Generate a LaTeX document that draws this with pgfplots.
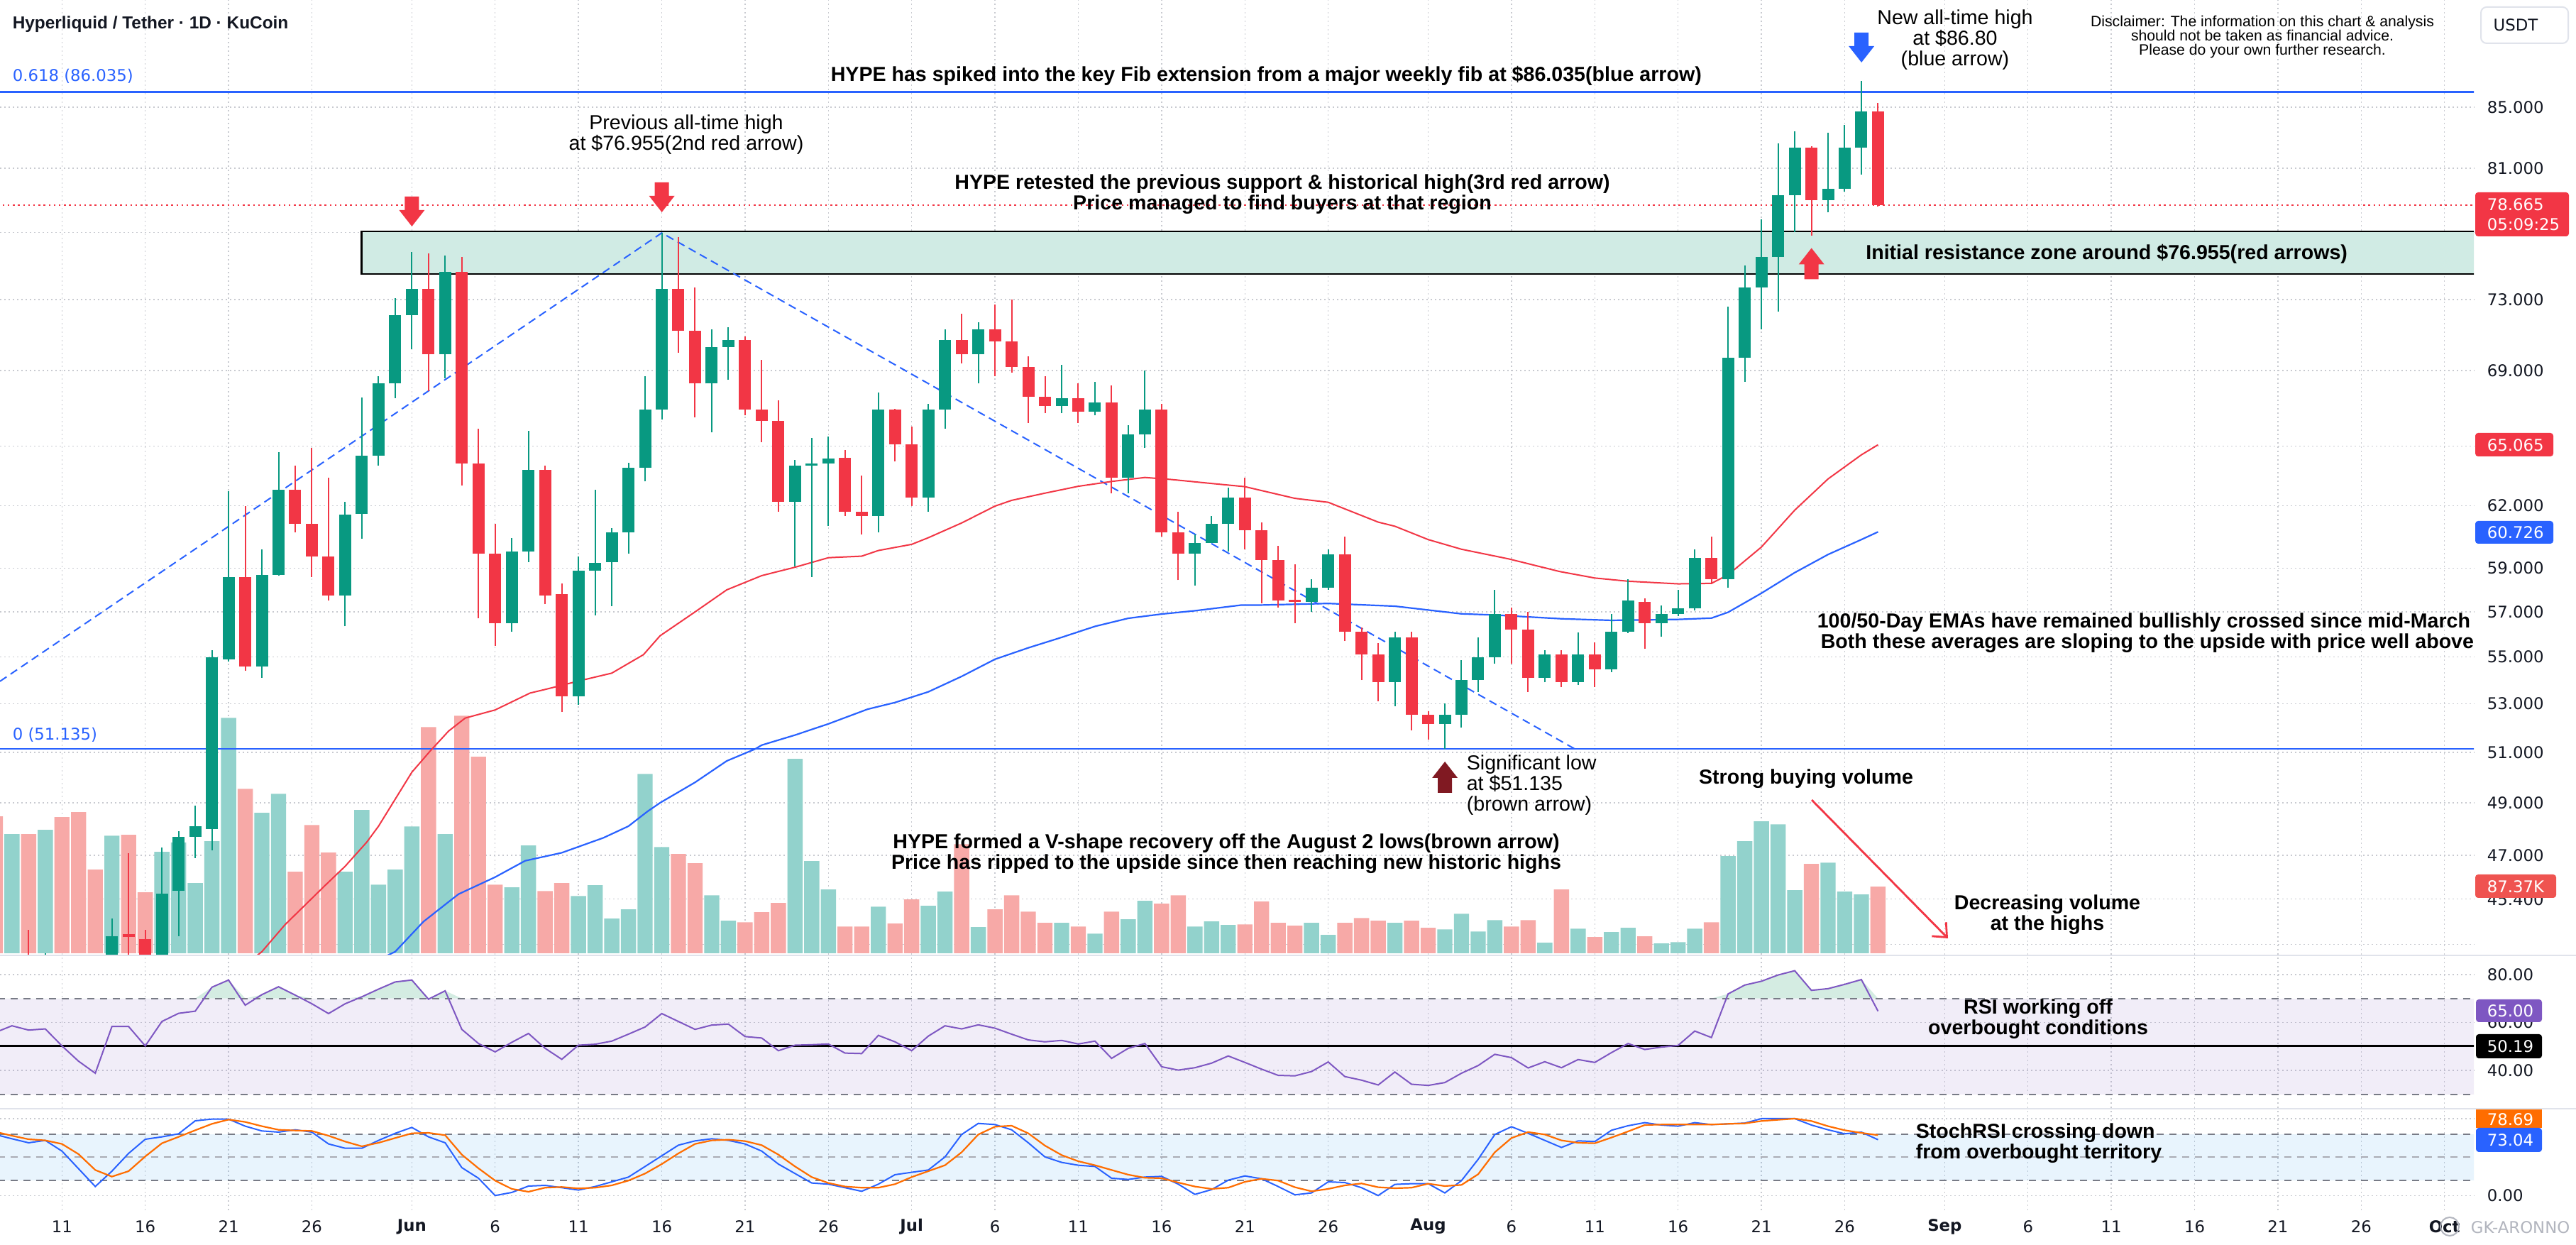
\documentclass[border=0pt]{standalone}
\usepackage{fontspec}
\setmainfont{Liberation Sans}
\newfontfamily\dv{DejaVu Sans}
\usepackage{pgfplots}
\usepackage{pgfplotstable}
\pgfplotsset{compat=1.18}
\usetikzlibrary{arrows.meta}

\definecolor{upc}{RGB}{8,153,129}
\definecolor{dnc}{RGB}{242,54,69}
\definecolor{vup}{RGB}{146,210,204}
\definecolor{vdn}{RGB}{247,169,167}
\definecolor{tvblue}{RGB}{41,98,255}
\definecolor{tvtext}{RGB}{19,23,34}
\definecolor{gridc}{RGB}{200,202,208}
\definecolor{zonec}{RGB}{208,235,228}
\definecolor{rsic}{RGB}{126,87,194}
\definecolor{stbl}{RGB}{33,150,243}
\definecolor{stor}{RGB}{255,109,0}
\definecolor{bandln}{RGB}{120,123,134}
\definecolor{bandln2}{RGB}{170,172,180}
\definecolor{sepc}{RGB}{224,227,235}
\definecolor{brownc}{RGB}{128,25,34}
\definecolor{obfill}{RGB}{212,236,226}
\definecolor{vlab}{RGB}{239,83,80}
\definecolor{wmark}{RGB}{178,181,190}

\newcommand{\ann}{\fontsize{7.15}{7.2}\selectfont}
\newcommand{\lab}{\dv\fontsize{5.7}{6.5}\selectfont}

\pgfplotstableread{
k O H L C
-2 43.4 44.3 42.0 43.0
-1 42.5 43.5 42.0 43.2
3 43.0 44.7 42.8 44.1
4 44.15 47.07 43.0 44.05
5 44.0 44.3 43.0 43.3
6 43.3 47.3 43.0 45.6
7 45.7 47.9 44.1 47.7
8 47.7 48.9 46.9 48.1
9 48.0 55.3 47.2 55.0
10 54.9 62.7 54.8 58.6
11 58.6 62.0 54.4 54.6
12 54.6 59.9 54.1 58.7
13 58.7 64.7 58.65 62.8
14 62.8 64.0 60.7 61.1
15 61.1 64.9 58.6 59.55
16 59.55 63.4 57.5 57.75
17 57.75 62.2 56.35 61.55
18 61.6 67.55 60.4 64.5
19 64.5 68.7 64.0 68.3
20 68.3 73.1 67.5 72.1
21 72.1 75.8 70.2 73.6
22 73.6 75.7 67.9 69.9
23 69.9 75.6 68.6 74.6
24 74.6 75.5 63.0 64.1
25 64.1 65.9 56.7 59.7
26 59.7 61.1 55.5 56.5
27 56.5 60.45 56.1 59.8
28 59.8 65.8 59.3 63.8
29 63.8 64.0 57.35 57.75
30 57.8 58.3 52.65 53.3
31 53.3 59.55 52.95 58.9
32 58.9 62.8 56.85 59.25
33 59.3 60.9 57.25 60.7
34 60.7 64.15 59.7 63.9
35 63.9 68.7 63.2 66.9
36 66.9 76.955 66.4 73.6
37 73.6 76.7 70.0 71.2
38 71.2 73.7 66.5 68.3
39 68.3 71.3 65.7 70.3
40 70.3 71.4 68.5 70.7
41 70.7 70.9 66.6 66.9
42 66.9 69.6 65.2 66.3
43 66.3 67.4 61.7 62.2
44 62.2 64.3 59.1 64.0
45 64.0 65.4 58.6 64.1
46 64.1 65.5 61.0 64.35
47 64.4 64.8 61.5 61.7
48 61.7 63.5 60.6 61.5
49 61.5 67.8 60.7 66.9
50 66.9 66.95 64.2 65.1
51 65.1 66.0 62.0 62.4
52 62.4 67.2 61.7 66.9
53 66.9 71.3 65.9 70.7
54 70.7 72.2 69.4 69.9
55 69.9 71.7 68.3 71.3
56 71.3 72.7 68.7 70.6
57 70.6 73.0 68.9 69.2
58 69.2 69.8 66.2 67.6
59 67.6 68.7 66.7 67.1
60 67.1 69.3 66.7 67.5
61 67.5 68.3 66.2 66.8
62 66.8 68.4 66.6 67.3
63 67.3 68.2 62.6 63.4
64 63.4 66.1 62.6 65.6
65 65.6 69.0 64.9 66.9
66 66.9 67.2 60.5 60.7
67 60.7 61.7 58.45 59.7
68 59.7 60.6 58.2 60.2
69 60.2 61.5 60.2 61.1
70 61.1 62.9 59.8 62.4
71 62.4 63.4 59.9 60.8
72 60.8 61.2 57.4 59.4
73 59.4 60.05 57.2 57.5
74 57.55 59.2 56.5 57.45
75 57.45 58.5 57.0 58.1
76 58.1 59.9 58.0 59.65
77 59.65 60.5 55.7 56.1
78 56.1 56.3 54.0 55.1
79 55.1 55.6 53.1 53.9
80 53.9 56.1 52.9 55.85
81 55.85 56.1 51.9 52.55
82 52.55 52.7 51.5 52.15
83 52.15 53.0 51.135 52.55
84 52.55 54.85 52.0 54.0
85 54.0 55.85 53.5 55.0
86 55.0 58.0 54.7 56.9
87 56.9 57.2 54.7 56.2
88 56.2 57.0 53.5 54.1
89 54.1 55.3 53.9 55.1
90 55.1 55.3 53.7 53.9
91 53.9 56.07 53.8 55.1
92 55.1 55.65 53.7 54.45
93 54.45 56.9 54.35 56.1
94 56.1 58.5 56.05 57.5
95 57.45 57.6 55.35 56.5
96 56.5 57.3 55.9 56.9
97 56.9 58.0 56.8 57.15
98 57.15 59.9 57.05 59.5
99 59.5 60.5 58.25 58.5
100 58.5 72.6 58.1 69.7
101 69.7 75.0 68.4 73.7
102 73.7 77.8 71.3 75.5
103 75.5 82.6 72.3 79.3
104 79.3 83.4 77.0 82.3
105 82.3 82.4 76.8 79.0
106 79.0 83.3 78.2 79.7
107 79.7 83.8 79.5 82.3
108 82.3 86.8 80.6 84.7
109 84.7 85.3 78.6 78.665
}\candles

\pgfplotstableread{
k v d
-4 179.6 0
-3 156.3 1
-2 156.3 0
-1 161.9 1
0 178.7 0
1 185.2 0
2 109.7 0
3 154.4 1
4 155.4 0
5 79.9 0
6 133.0 1
7 145.4 1
8 92.0 1
9 147.0 1
10 309.1 1
11 215.9 0
12 184.3 1
13 209.4 1
14 106.9 0
15 168.4 0
16 132.1 0
17 106.9 1
18 188.0 1
19 90.1 1
20 109.7 1
21 166.5 1
22 297.0 0
23 156.3 1
24 311.9 0
25 257.9 0
26 90.1 0
27 86.4 1
28 141.4 1
29 81.7 0
30 92.0 0
31 75.2 1
32 89.2 1
33 45.4 1
34 57.5 1
35 235.5 1
36 139.5 1
37 130.2 0
38 118.1 0
39 76.1 1
40 42.6 1
41 40.7 0
42 53.8 0
43 65.9 0
44 255.1 1
45 120.9 1
46 83.6 1
47 35.1 0
48 35.1 0
49 61.2 1
50 38.9 0
51 70.6 0
52 62.2 1
53 80.8 1
54 143.2 0
55 34.2 1
56 57.5 0
57 76.1 0
58 54.7 0
59 39.8 0
60 39.8 1
61 35.1 0
62 25.8 1
63 54.7 0
64 44.5 1
65 68.7 1
66 65.0 0
67 76.1 0
68 35.1 1
69 41.7 1
70 37.0 1
71 37.9 0
72 67.8 0
73 39.8 0
74 36.1 0
75 39.8 1
76 24.0 1
77 39.8 0
78 46.3 0
79 42.6 0
80 39.8 1
81 42.6 0
82 33.3 0
83 31.4 1
84 51.9 1
85 28.6 1
86 43.5 1
87 35.1 0
88 43.5 0
89 13.7 1
90 83.6 0
91 32.3 1
92 21.2 0
93 27.7 1
94 33.3 1
95 22.1 0
96 12.8 1
97 14.6 1
98 32.3 1
99 40.7 0
100 127.4 1
101 147.0 1
102 173.1 1
103 169.3 1
104 82.7 1
105 117.2 0
106 119.0 1
107 80.8 1
108 77.1 1
109 87.37 0
}\vol

\pgfplotstableread{
k r
-3.72 56.6
-3 58.6
-2 56.8
-1 57.3
0 50.2
1 43.8
2 38.8
3 58.3
4 58.3
5 50.2
6 60.4
7 63.8
8 64.7
9 74.7
10 77.7
11 67.2
12 71.6
13 74.9
14 71.4
15 67.8
16 63.7
17 67.8
18 70.7
19 73.9
20 76.9
21 77.7
22 69.7
23 73.2
24 57.1
25 51.2
26 47.7
27 51.7
28 55.4
29 49.2
30 44.6
31 50.5
32 50.9
33 52.2
34 55.1
35 58.1
36 63.7
37 60.4
38 57.1
39 58.9
40 59.3
41 54.1
42 53.5
43 48.2
44 50.5
45 50.7
46 51.0
47 47.2
48 47.0
49 54.6
50 51.9
51 48.2
52 54.3
53 58.6
54 57.3
55 59.0
56 57.6
57 55.1
58 52.7
59 51.9
60 52.5
61 51.0
62 52.2
63 45.0
64 49.2
65 51.2
66 41.5
67 40.1
68 41.1
69 43.0
70 46.0
71 43.3
72 40.5
73 37.9
74 37.7
75 39.5
76 43.5
77 37.4
78 35.9
79 33.9
80 39.3
81 34.2
82 33.7
83 34.9
84 38.8
85 42.0
86 46.7
87 45.3
88 41.0
89 43.6
90 41.1
91 44.5
92 43.3
93 47.4
94 51.2
95 48.7
96 49.7
97 50.4
98 56.4
99 53.7
100 71.9
101 75.6
102 77.2
103 79.8
104 81.6
105 73.4
106 74.1
107 75.9
108 77.9
109 64.7
}\rsi

\pgfplotstableread{
k K D
-3.72 77.8 81.5
-3 73.8 77.8
-2 68.6 73.2
-1 71.7 71.7
0 57.8 67.1
1 34.8 53.8
2 11.7 33.2
3 31.7 24.6
4 54.8 31.7
5 73.2 50.8
6 76.3 68.0
7 80.3 76.3
8 97.2 84.9
9 99.4 93.2
10 99.4 98.8
11 90.2 95.7
12 84.0 90.2
13 82.5 85.5
14 85.5 84.6
15 82.5 84.0
16 67.1 77.8
17 61.5 70.2
18 61.5 64.0
19 71.7 68.6
20 80.9 74.8
21 88.6 80.9
22 76.3 81.5
23 68.6 78.5
24 36.3 53.2
25 22.5 35.4
26 0.0 19.4
27 4.0 8.6
28 12.3 4.9
29 13.2 10.2
30 10.2 11.1
31 7.1 9.2
32 11.7 10.2
33 17.8 13.2
34 24.0 19.4
35 37.8 28.6
36 51.7 40.9
37 65.5 54.8
38 71.1 67.1
39 73.8 71.7
40 71.7 72.6
41 67.1 70.8
42 57.8 65.5
43 40.9 53.2
44 28.6 37.8
45 16.3 24.0
46 14.8 16.3
47 10.2 11.7
48 5.5 10.2
49 14.8 10.2
50 27.1 14.8
51 30.2 24.0
52 33.2 31.7
53 50.2 39.4
54 79.4 56.3
55 93.8 79.4
56 92.3 89.5
57 85.5 90.8
58 68.6 80.9
59 50.2 64.9
60 43.1 52.6
61 39.4 44.6
62 37.8 39.4
63 22.5 33.2
64 20.9 27.1
65 24.0 23.1
66 24.9 22.5
67 14.8 16.9
68 1.5 11.7
69 7.7 8.6
70 20.0 10.2
71 25.5 17.8
72 21.8 21.8
73 11.7 19.4
74 0.9 10.8
75 3.4 5.5
76 17.8 8.6
77 16.9 13.2
78 10.2 15.7
79 0.0 10.8
80 14.5 9.5
81 15.4 10.2
82 15.4 15.4
83 3.4 12.3
84 19.4 13.8
85 47.1 27.7
86 79.4 56.3
87 89.5 74.8
88 80.9 82.5
89 71.7 79.4
90 62.5 71.7
91 71.1 68.6
92 70.2 68.0
93 84.9 75.4
94 90.8 83.4
95 94.8 91.7
96 91.7 92.3
97 90.2 92.3
98 94.8 92.3
99 92.3 92.3
100 93.2 93.2
101 94.2 93.8
102 100 96.9
103 100 98.5
104 100 100
105 91.7 96.9
106 85.5 90.2
107 80.3 84.9
108 82.5 81.5
109 72.6 78.5
}\stoch

\pgfplotsset{
  tvbase/.style={
    scale only axis, width=871.5pt, xmin=-3.718, xmax=144.76,
    anchor=south west, axis line style={draw=none}, tick style={draw=none},
    major tick length=0pt,
    xtick={0,5,10,15,21,26,31,36,41,46,51,56,61,66,71,76,82,87,92,97,102,107,113,118,123,128,133,138,143},
    major grid style={gridc, line width=0.35pt, dash pattern=on 0.4pt off 1.1pt},
    yticklabel pos=right,
    yticklabel style={font=\lab, text=tvtext, anchor=west, inner sep=0pt, xshift=4.5pt},
  },
}

\begin{document}
\begin{tikzpicture}
\useasboundingbox (0,0) rectangle (907.5pt,438.5pt);
\fill[white] (0,0) rectangle (907.5pt,438.5pt);

% ---------- price grid + scale ----------
\begin{axis}[tvbase, at={(0pt,102.25pt)}, height=336.25pt,
  ymode=log, ymin=43.45, ymax=92.54, xticklabels={},
  xmajorgrids, ymajorgrids,
  ytick={43.8,45.4,47,49,51,53,55,57,59,62,65,69,73,77,81,85},
  yticklabels={,45.400,47.000,49.000,51.000,53.000,55.000,57.000,59.000,62.000,,69.000,73.000,,81.000,85.000}]
\addplot[draw=none, forget plot] coordinates {(0,50)(1,51)};
\end{axis}

% ---------- volume ----------
\begin{axis}[tvbase, at={(0pt,102.25pt)}, height=336.25pt,
  ymin=-1.9, ymax=1251.6, xticklabels={}, ytick=\empty]
\addplot[ybar, bar width=5.35pt, bar shift=0pt, fill=vup, draw=none,
  restrict expr to domain={\thisrow{d}}{0.5:1.5}] table[x=k,y=v]{\vol};
\addplot[ybar, bar width=5.35pt, bar shift=0pt, fill=vdn, draw=none,
  restrict expr to domain={\thisrow{d}}{-0.5:0.5}] table[x=k,y=v]{\vol};
\end{axis}

% ---------- price content ----------
\begin{axis}[tvbase, at={(0pt,102.25pt)}, height=336.25pt,
  ymode=log, ymin=43.45, ymax=92.54, xticklabels={}, ytick=\empty]
\draw[fill=zonec, draw=black, line width=0.6pt] (axis cs:17.99,74.50) rectangle (axis cs:150,77.05);
\addplot[tvblue, line width=0.6pt] coordinates {(-10,86.035) (150,86.035)};
\addplot[tvblue, line width=0.6pt] coordinates {(-10,51.135) (150,51.135)};
\addplot[dnc, line width=0.4pt, dash pattern=on 0.6pt off 1.2pt] coordinates {(-10,78.665) (150,78.665)};
\addplot[tvblue, line width=0.5pt, dash pattern=on 2.8pt off 1.7pt] coordinates {(-3.72,53.95) (36,76.955) (90.8,51.135)};
% EMA 50 (red)
\addplot[dnc, line width=0.5pt] coordinates {
(8,41.6)(10,42.6)(11,43.1)(12,43.55)(13.4,44.5)(15.8,45.9)(17,46.6)(18.3,47.5)(19,48.1)(21,50.2)(22.1,51.05)(23.2,51.86)(24.2,52.4)(26,52.74)(28.1,53.45)(29,53.6)(31,53.96)(33,54.3)(34.9,55.1)(35.9,55.93)(38,57.0)(39.9,58.0)(42,58.66)(44,59.05)(46,59.5)(48,59.57)(49,59.84)(51,60.13)(52,60.45)(54,61.16)(56,61.98)(57,62.26)(59,62.62)(61,62.96)(63,63.2)(65,63.4)(66.6,63.3)(69,63.1)(71,62.94)(74,62.36)(76,62.17)(79,61.2)(80,61.0)(82,60.36)(84,59.9)(86.85,59.44)(89.9,58.85)(92,58.55)(94,58.4)(97,58.28)(99,58.3)(100,58.7)(102,60.0)(104,61.78)(106,63.33)(108,64.55)(109,65.065)};
% EMA 100 (blue)
\addplot[tvblue, line width=0.55pt] coordinates {
(16,42.0)(18,43.0)(20,43.55)(21.7,44.6)(23.2,45.3)(23.8,45.58)(26,46.2)(27.8,46.8)(30,47.1)(32.5,47.66)(34,48.1)(35.15,48.67)(35.9,49.0)(38,49.8)(39.9,50.65)(41.6,51.13)(42,51.29)(44,51.7)(46,52.16)(48.35,52.77)(50,53.05)(52,53.5)(54,54.16)(56,54.9)(58,55.4)(60,55.86)(62,56.35)(64,56.71)(66,56.9)(68,57.05)(70.8,57.31)(72,57.31)(76,57.38)(80,57.26)(84,56.91)(86,56.86)(90,56.69)(93,56.62)(97,56.66)(99,56.72)(100,56.98)(102,57.85)(104,58.8)(106,59.65)(108,60.36)(109,60.726)};
% wicks
\addplot[draw=none, mark=none, forget plot,
  restrict expr to domain={\thisrow{C}-\thisrow{O}}{0:1000},
  error bars/.cd, y dir=plus, y explicit, error mark=none,
  error bar style={draw=upc, line width=0.5pt, solid}]
  table[x=k, y=L, y error plus expr={\thisrow{H}-\thisrow{L}}]{\candles};
\addplot[draw=none, mark=none, forget plot,
  restrict expr to domain={\thisrow{C}-\thisrow{O}}{-1000:-0.00001},
  error bars/.cd, y dir=plus, y explicit, error mark=none,
  error bar style={draw=dnc, line width=0.5pt, solid}]
  table[x=k, y=L, y error plus expr={\thisrow{H}-\thisrow{L}}]{\candles};
% bodies
\addplot[draw=none, mark=none, forget plot,
  restrict expr to domain={\thisrow{C}-\thisrow{O}}{0:1000},
  error bars/.cd, y dir=plus, y explicit, error mark=none,
  error bar style={draw=upc, line width=4.25pt, solid}]
  table[x=k, y=O, y error plus expr={max(\thisrow{C}-\thisrow{O},0.06)}]{\candles};
\addplot[draw=none, mark=none, forget plot,
  restrict expr to domain={\thisrow{C}-\thisrow{O}}{-1000:-0.00001},
  error bars/.cd, y dir=plus, y explicit, error mark=none,
  error bar style={draw=dnc, line width=4.25pt, solid}]
  table[x=k, y=C, y error plus expr={max(\thisrow{O}-\thisrow{C},0.06)}]{\candles};
\end{axis}

% ---------- RSI ----------
\begin{axis}[tvbase, at={(0pt,48.25pt)}, height=53.5pt,
  ymin=24.28, ymax=87.69, xticklabels={}, xmajorgrids, ymajorgrids,
  ytick={40,60,80}, yticklabels={40.00,60.00,80.00}]
\fill[rsic, fill opacity=0.1] (axis cs:-10,30) rectangle (axis cs:150,70);
\addplot[obfill, fill=obfill, draw=none] table[x=k, y expr={max(\thisrow{r},70)}]{\rsi} -- (axis cs:109,70) -- (axis cs:-3.72,70) -- cycle;
\addplot[bandln, line width=0.5pt, dash pattern=on 2.5pt off 2pt] coordinates {(-10,70)(150,70)};
\addplot[bandln, line width=0.5pt, dash pattern=on 2.5pt off 2pt] coordinates {(-10,30)(150,30)};
\addplot[black, line width=0.75pt] coordinates {(-10,50.19)(150,50.19)};
\addplot[rsic, line width=0.5pt] table[x=k,y=r]{\rsi};
\end{axis}

% ---------- Stoch RSI ----------
\begin{axis}[tvbase, at={(0pt,12.25pt)}, height=35.5pt,
  ymin=-19.1, ymax=112, xmajorgrids, ymajorgrids,
  ytick={0,100}, yticklabels={0.00,},
  xticklabels={11,16,21,26,\textbf{Jun},6,11,16,21,26,\textbf{Jul},6,11,16,21,26,\textbf{Aug},6,11,16,21,26,\textbf{Sep},6,11,16,21,26,\textbf{Oct}},
  xticklabel style={font=\lab, text=tvtext, anchor=center, inner sep=0pt, yshift=-5.75pt}]
\fill[stbl, fill opacity=0.1] (axis cs:-10,20) rectangle (axis cs:150,80);
\addplot[bandln, line width=0.5pt, dash pattern=on 2.5pt off 2pt] coordinates {(-10,80)(150,80)};
\addplot[bandln2, line width=0.5pt, dash pattern=on 2.5pt off 2pt] coordinates {(-10,50)(150,50)};
\addplot[bandln, line width=0.5pt, dash pattern=on 2.5pt off 2pt] coordinates {(-10,20)(150,20)};
\addplot[tvblue, line width=0.5pt] table[x=k,y=K]{\stoch};
\addplot[stor, line width=0.55pt] table[x=k,y=D]{\stoch};
\end{axis}

% ---------- annotations (pixel frame) ----------
\begin{scope}[shift={(0pt,438.5pt)}, x=0.25pt, y=-0.25pt]
\draw[sepc, line width=0.6pt] (0,1346) -- (3630,1346);
\draw[sepc, line width=0.6pt] (0,1562) -- (3630,1562);

\node[anchor=west, inner sep=0pt, font=\fontsize{6.1}{7}\selectfont\bfseries, text=tvtext] at (17,34) {Hyperliquid / Tether · 1D · KuCoin};
\node[anchor=west, inner sep=0pt, font=\lab, text=tvblue] at (17,107.5) {0.618 (86.035)};
\node[anchor=west, inner sep=0pt, font=\lab, text=tvblue] at (17,1035) {0 (51.135)};

\node[anchor=west, inner sep=0pt, font=\ann\bfseries, text=black] at (1170,107) {HYPE has spiked into the key Fib extension from a major weekly fib at \$86.035(blue arrow)};
\node[align=center, inner sep=0pt, font=\ann, text=black] at (967,189.5) {Previous all-time high\\at \$76.955(2nd red arrow)};
\node[align=center, inner sep=0pt, font=\ann\bfseries, text=black] at (1807,274) {HYPE retested the previous support \& historical high(3rd red arrow)\\Price managed to find buyers at that region};
\node[anchor=west, inner sep=0pt, font=\ann\bfseries, text=black] at (2628.5,358) {Initial resistance zone around \$76.955(red arrows)};
\node[align=center, inner sep=0pt, font=\ann, text=black] at (2755,56.3) {New all-time high\\at \$86.80\\(blue arrow)};
\node[align=center, inner sep=0pt, font=\fontsize{5.3}{5.05}\selectfont, text=black] at (3188,52) {Disclaimer: The information on this chart \& analysis\\should not be taken as financial advice.\\Please do your own further research.};

\draw[sepc, line width=0.5pt, rounded corners=2pt] (3496,10) rectangle (3619,61);
\node[inner sep=0pt, font=\lab, text=tvtext] at (3545,35) {USDT};

\begin{scope}
\clip (0,0) rectangle (3486,1345);
\node[anchor=west, align=left, inner sep=0pt, font=\ann\bfseries, text=black] at (2560,892) {100/50-Day EMAs have remained bullishly crossed since mid-March\\\hspace{1.25pt}Both these averages are sloping to the upside with price well above};
\end{scope}

\node[anchor=west, align=left, inner sep=0pt, font=\ann, text=black] at (2066,1106) {Significant low\\at \$51.135\\(brown arrow)};
\node[inner sep=0pt, font=\ann\bfseries, text=black] at (2545,1097) {Strong buying volume};
\node[align=center, inner sep=0pt, font=\ann\bfseries, text=black] at (2885,1289) {Decreasing volume\\at the highs};
\node[align=center, inner sep=0pt, font=\ann\bfseries, text=black] at (1728,1202.5) {HYPE formed a V-shape recovery off the August 2 lows(brown arrow)\\Price has ripped to the upside since then reaching new historic highs};
\node[align=center, inner sep=0pt, font=\ann\bfseries, text=black] at (2872,1436) {RSI working off\\overbought conditions};
\node[anchor=west, align=left, inner sep=0pt, font=\ann\bfseries, text=black] at (2699,1611) {StochRSI crossing down\\from overbought territory};

% arrows
\newcommand{\dnarr}[3]{\fill[#3] ({#1-10},{#2-42}) -- ({#1+10},{#2-42}) -- ({#1+10},{#2-23}) -- ({#1+18},{#2-23}) -- (#1,#2) -- ({#1-18},{#2-23}) -- ({#1-10},{#2-23}) -- cycle;}
\newcommand{\uparr}[3]{\fill[#3] ({#1-10},{#2+44}) -- ({#1+10},{#2+44}) -- ({#1+10},{#2+23}) -- ({#1+18},{#2+23}) -- (#1,#2) -- ({#1-18},{#2+23}) -- ({#1-10},{#2+23}) -- cycle;}
\dnarr{580.4}{319}{dnc}
\dnarr{932.6}{299}{dnc}
\uparr{2552.7}{349.5}{dnc}
\dnarr{2623.1}{88}{tvblue}
\uparr{2036.1}{1073}{brownc}
\draw[dnc, line width=0.7pt, -{Straight Barb[length=4pt, width=7pt]}] (2553,1127) -- (2745,1322);

% scale boxes
\fill[dnc, rounded corners=1pt] (3488,271) rectangle (3620,333);
\node[anchor=west, inner sep=0pt, font=\lab, text=white] at (3504,288) {78.665};
\node[anchor=west, inner sep=0pt, font=\lab, text=white] at (3504,316) {05:09:25};
\fill[dnc, rounded corners=1pt] (3488,610) rectangle (3598,643);
\node[anchor=west, inner sep=0pt, font=\lab, text=white] at (3504,627) {65.065};
\fill[tvblue, rounded corners=1pt] (3488,734) rectangle (3598,766);
\node[anchor=west, inner sep=0pt, font=\lab, text=white] at (3504,750) {60.726};
\fill[vlab, rounded corners=1pt] (3488,1232) rectangle (3602,1265);
\node[anchor=west, inner sep=0pt, font=\lab, text=white] at (3504,1249) {87.37K};
\fill[rsic, rounded corners=1pt] (3489,1408) rectangle (3582,1440);
\node[anchor=west, inner sep=0pt, font=\lab, text=white] at (3504,1424) {65.00};
\fill[black, rounded corners=1pt] (3489,1457) rectangle (3582,1491);
\node[anchor=west, inner sep=0pt, font=\lab, text=white] at (3504,1474) {50.19};
\fill[stor] (3489,1563) rectangle (3582,1589);
\node[anchor=west, inner sep=0pt, font=\lab, text=white] at (3504,1577) {78.69};
\fill[tvblue, rounded corners=1pt] (3489,1589) rectangle (3582,1623);
\node[anchor=west, inner sep=0pt, font=\lab, text=white] at (3504,1606) {73.04};

% watermark
\draw[wmark, line width=0.5pt] (3452,1728) circle (13);
\node[anchor=west, inner sep=0pt, font=\lab, text=wmark] at (3481,1729) {GK-ARONNO};
\end{scope}
\end{tikzpicture}
\end{document}
